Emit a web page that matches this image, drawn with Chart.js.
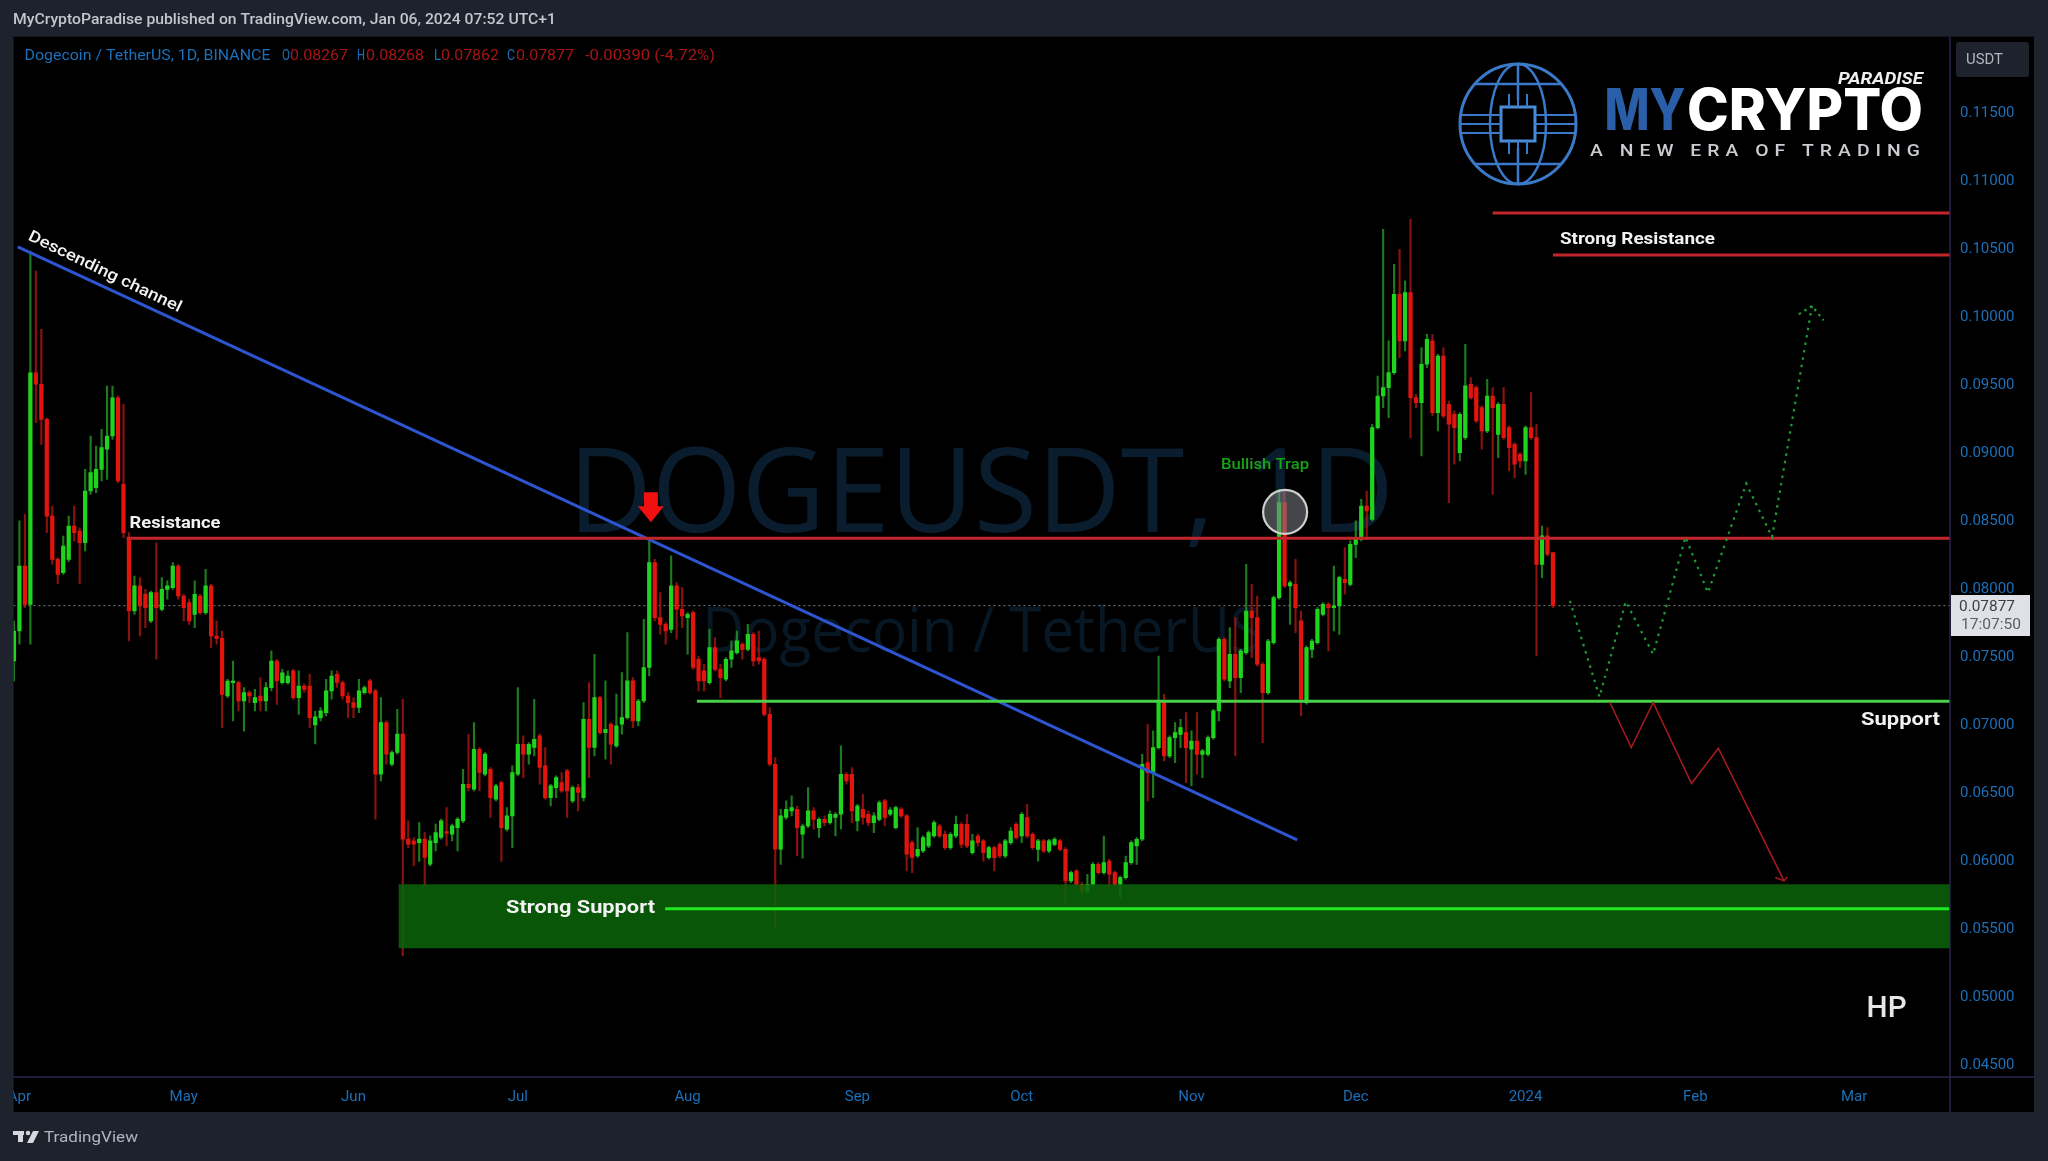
<!DOCTYPE html>
<html><head><meta charset="utf-8"><title>DOGEUSDT</title>
<style>html,body{margin:0;padding:0;background:#1e222d}canvas{display:block;filter:blur(0.7px)}</style>
<script src="https://cdn.jsdelivr.net/npm/chart.js@4"></script></head>
<body><canvas id="c" width="2048" height="1161"></canvas>
<script>
const firstDay=-1;
const opens=[.07470,.07691,.08169,.07887,.09590,.09505,.09247,.08536,.08218,.08120,
.08218,.08463,.08426,.08340,.08720,.08745,.08879,.09027,.09125,.09406,
.08769,.08377,.07838,.08022,.07960,.07764,.07973,.07850,.07997,.08010,
.08169,.07948,.07899,.07813,.07948,.07826,.08022,.07654,.07637,.07213,
.07311,.07311,.07176,.07238,.07164,.07213,.07176,.07274,.07470,.07311,
.07311,.07397,.07201,.07286,.07286,.07000,.07054,.07091,.07250,.07373,
.07312,.07213,.07164,.07128,.07238,.07324,.07250,.06637,.07017,.06711,
.06797,.06932,.06160,.06147,.06135,.06160,.05976,.06135,.06172,.06209,
.06196,.06245,.06294,.06564,.06527,.06821,.06637,.06674,.06454,.06576,
.06233,.06331,.06637,.06858,.06785,.06834,.06919,.06699,.06466,.06539,
.06576,.06662,.06441,.06539,.06466,.07042,.06834,.07201,.06944,.07005,
.06846,.07005,.07054,.07324,.07029,.07176,.07422,.08194,.07789,.07740,
.07703,.08022,.07850,.07789,.07826,.07483,.07397,.07311,.07569,.07409,
.07336,.07483,.07532,.07593,.07556,.07667,.07495,.07483,.07078,.06711,
.06086,.06319,.06368,.06380,.06196,.06257,.06368,.06245,.06306,.06282,
.06319,.06343,.06637,.06637,.06294,.06380,.06343,.06282,.06306,.06441,
.06343,.06245,.06380,.06331,.06135,.06037,.06074,.06110,.06184,.06257,
.06196,.06098,.06183,.06269,.06269,.06061,.06183,.06147,.06024,.06098,
.06122,.06036,.06134,.06269,.06183,.06318,.06196,.06085,.06147,.06073,
.06122,.06147,.06085,.05852,.05926,.05828,.05779,.05828,.05975,.05914,
.05999,.05914,.05828,.05877,.05987,.06110,.06159,.06723,.06649,.06833,
.07176,.06772,.06907,.06931,.06943,.06821,.06882,.06784,.06784,.06907,
.07103,.07630,.07323,.07519,.07348,.07532,.07838,.07789,.07446,.07238,
.07605,.07936,.08635,.08022,.08034,.07765,.07164,.07556,.07605,.07813,
.07887,.07863,.07875,.08071,.08034,.08328,.08365,.08610,.08512,.09186,
.09419,.09480,.09591,.10167,.09824,.10179,.09407,.09370,.09652,.09824,
.09297,.09713,.09358,.09284,.09002,.09113,.09505,.09480,.09333,.09162,
.09419,.09137,.09358,.09186,.09064,.08990,.08941,.09186,.09113,.08181,
.08390,.08267];
const highs=[.07764,.08500,.08549,.10485,.10338,.09909,.09259,.08610,.08230,.08389,
.08536,.08610,.08450,.08879,.09125,.09051,.09174,.09492,.09492,.09420,
.09358,.08414,.08095,.08083,.07997,.07985,.08340,.08083,.08059,.08193,
.08180,.07960,.07924,.08059,.07960,.08144,.08034,.07764,.07691,.07335,
.07470,.07323,.07274,.07250,.07262,.07348,.07311,.07544,.07482,.07409,
.07397,.07409,.07397,.07300,.07372,.07100,.07128,.07336,.07397,.07397,
.07324,.07238,.07201,.07336,.07287,.07336,.07262,.07201,.07030,.06809,
.07115,.07189,.06294,.06172,.06282,.06209,.06184,.06270,.06307,.06392,
.06270,.06319,.06674,.06932,.07017,.06834,.06797,.06687,.06564,.06588,
.06392,.06699,.07275,.06919,.06870,.07189,.06932,.06834,.06564,.06625,
.06650,.06674,.06552,.06564,.07164,.07312,.07520,.07213,.07324,.07017,
.07226,.07385,.07679,.07348,.07189,.07777,.08353,.08218,.07973,.07752,
.08243,.08047,.08010,.07826,.07838,.07507,.07446,.07703,.07642,.07446,
.07495,.07618,.07691,.07605,.07740,.07679,.07691,.07495,.07127,.06760,
.06380,.06441,.06478,.06404,.06270,.06539,.06392,.06319,.06331,.06368,
.06355,.06846,.06649,.06686,.06417,.06490,.06368,.06355,.06441,.06453,
.06392,.06404,.06392,.06343,.06147,.06245,.06184,.06221,.06294,.06269,
.06220,.06208,.06330,.06281,.06343,.06196,.06196,.06159,.06110,.06110,
.06134,.06159,.06245,.06281,.06355,.06416,.06208,.06159,.06159,.06159,
.06171,.06159,.06098,.05926,.05938,.05840,.05901,.05987,.05987,.06183,
.06012,.05926,.05889,.06036,.06147,.06171,.06784,.07005,.06956,.07507,
.07225,.06919,.07017,.07041,.07090,.06956,.07090,.06821,.06919,.07115,
.07642,.07642,.07715,.07789,.07556,.08181,.08034,.07948,.07458,.07630,
.07948,.08733,.08733,.08059,.08218,.07838,.07581,.07630,.07863,.07899,
.07899,.08169,.08095,.08304,.08353,.08500,.08659,.08720,.09211,.09566,
.10645,.09824,.10387,.10498,.10265,.10718,.09431,.09775,.09873,.09873,
.09725,.09775,.09382,.09309,.09297,.09799,.09554,.09493,.09346,.09542,
.09480,.09370,.09480,.09199,.09076,.09002,.09199,.09444,.09211,.08463,
.08451,.08268];
const lows=[.07323,.07593,.07862,.07593,.09223,.09063,.08414,.08181,.08039,.08107,
.08200,.08353,.08039,.08279,.08696,.08708,.08794,.08806,.09100,.08781,
.08377,.07617,.07813,.07654,.07715,.07752,.07483,.07838,.07924,.07997,
.07924,.07764,.07740,.07715,.07813,.07813,.07568,.07593,.06980,.07201,
.07029,.07103,.06955,.07164,.07103,.07103,.07103,.07250,.07151,.07299,
.07299,.07188,.07078,.07240,.06980,.06860,.07030,.07066,.07189,.07275,
.07189,.07054,.07054,.07091,.07226,.07226,.06307,.06588,.06711,.06699,
.06785,.05302,.06098,.05963,.05996,.05816,.05963,.06074,.06160,.06111,
.06147,.06074,.06282,.06515,.06515,.06515,.06625,.06319,.06441,.05996,
.06221,.06098,.06625,.06613,.06711,.06772,.06564,.06454,.06405,.06466,
.06503,.06319,.06429,.06368,.06441,.06613,.06772,.06932,.06748,.06711,
.06834,.06932,.07042,.06980,.06993,.07164,.07360,.07765,.07667,.07593,
.07679,.07630,.07716,.07520,.07409,.07250,.07250,.07299,.07397,.07201,
.07324,.07422,.07520,.07483,.07544,.07434,.07446,.07066,.06699,.05498,
.05975,.06306,.06331,.06037,.06020,.06245,.06233,.06172,.06257,.06270,
.06184,.06233,.06564,.06282,.06221,.06270,.06257,.06208,.06294,.06257,
.06331,.06233,.06319,.05926,.05914,.06025,.06061,.06098,.06172,.06171,
.06085,.06085,.06171,.06098,.06098,.06049,.06110,.05999,.06012,.05926,
.06024,.06024,.06122,.06159,.06134,.06171,.06085,.05999,.06061,.06061,
.06110,.06073,.05693,.05840,.05816,.05755,.05767,.05816,.05902,.05902,
.05816,.05816,.05730,.05865,.05975,.05975,.06147,.06441,.06466,.06821,
.06735,.06760,.06723,.06833,.06576,.06551,.06637,.06613,.06772,.06894,
.07029,.07323,.07274,.06772,.07238,.07519,.07495,.07434,.06870,.07225,
.07593,.07924,.08010,.07740,.07679,.07066,.07152,.07495,.07593,.07801,
.07544,.07691,.07666,.07961,.08022,.08230,.08353,.08365,.08500,.09174,
.09333,.09260,.09578,.09701,.09750,.09113,.09333,.08978,.09627,.09272,
.09162,.09260,.08635,.08917,.08941,.09100,.09395,.09223,.09027,.09150,
.08696,.08966,.09100,.08868,.08819,.08892,.08843,.09100,.07507,.08083,
.08243,.07862];
const closes=[.07691,.08169,.07887,.09590,.09505,.09247,.08536,.08218,.08107,.08316,
.08463,.08414,.08340,.08720,.08855,.08879,.09039,.09125,.09406,.08794,
.08414,.07838,.08022,.07875,.07862,.07973,.07862,.07997,.08022,.08169,
.07948,.07862,.07764,.07960,.07826,.08022,.07654,.07637,.07225,.07323,
.07323,.07176,.07238,.07213,.07201,.07176,.07274,.07470,.07323,.07384,
.07360,.07201,.07286,.07262,.07054,.07060,.07103,.07250,.07360,.07312,
.07213,.07164,.07128,.07250,.07275,.07238,.06637,.07017,.06785,.06797,
.06932,.06160,.06123,.06123,.06160,.06025,.06147,.06209,.06294,.06204,
.06258,.06307,.06564,.06539,.06821,.06650,.06785,.06466,.06552,.06245,
.06331,.06650,.06858,.06785,.06858,.06895,.06687,.06466,.06552,.06613,
.06515,.06515,.06539,.06503,.07042,.06834,.07201,.06944,.06968,.06858,
.06993,.07054,.07324,.07029,.07176,.07422,.08194,.07789,.07740,.07691,
.08022,.07850,.07801,.07814,.07422,.07324,.07324,.07569,.07409,.07348,
.07483,.07544,.07618,.07556,.07667,.07471,.07471,.07078,.06711,.06086,
.06331,.06380,.06392,.06245,.06257,.06368,.06306,.06306,.06282,.06343,
.06343,.06637,.06588,.06368,.06404,.06319,.06282,.06331,.06429,.06319,
.06373,.06392,.06331,.06049,.06025,.06086,.06172,.06208,.06282,.06184,
.06098,.06196,.06269,.06122,.06110,.06147,.06134,.06061,.06098,.06024,
.06036,.06147,.06220,.06171,.06343,.06183,.06098,.06147,.06073,.06147,
.06159,.06085,.05852,.05914,.05828,.05779,.05828,.05975,.05914,.05987,
.05902,.05828,.05877,.05987,.06134,.06159,.06710,.06649,.06833,.07164,
.06772,.06907,.06943,.06980,.06833,.06882,.06784,.06809,.06907,.07103,
.07630,.07336,.07519,.07348,.07544,.07838,.07789,.07446,.07238,.07617,
.07936,.08635,.08022,.08046,.07863,.07189,.07568,.07617,.07850,.07887,
.07863,.07875,.08083,.08046,.08328,.08365,.08610,.08573,.09186,.09419,
.09480,.09591,.10167,.09824,.10179,.09407,.09370,.09652,.09836,.09297,
.09713,.09272,.09211,.09186,.09284,.09493,.09407,.09235,.09162,.09419,
.09333,.09358,.09113,.09039,.08917,.08941,.09186,.09113,.08181,.08390,
.08255,.07877];

const monthStarts=[0,30,61,91,122,153,183,214,244,275,306,335];
const monthLabels=['Apr','May','Jun','Jul','Aug','Sep','Oct','Nov','Dec','2024','Feb','Mar'];
const lastPrice=0.07877;
const xMin=-1.1, xMax=352.5, yMin=0.04411, yMax=0.12061;

const channelLine=[[-0.3,0.10515],[233.3,0.06154]];
const resistanceLine=[[19.6,0.08373],[xMax,0.08373]];
const strongResTop=[[269,0.10765],[xMax,0.10765]];
const strongResLow=[[280,0.10456],[xMax,0.10456]];
const supportLine=[[123.7,0.07174],[xMax,0.07174]];
const strongSupportLine=[[117.9,0.05649],[xMax,0.05649]];
const zoneTop=[[69.2,0.05829],[xMax,0.05829]];
const zoneBottom=[[69.2,0.05358],[xMax,0.05358]];
const upPath=[[283.1,.07912],[288.5,.07206],[293.3,.07907],[298.3,.0752],[304.2,.08382],[308.3,.07973],[315.3,.08775],[320,.08382],[327.3,.10081]];
const upHead=[[324.9,.1002],[327.3,.10081],[329.4,.09975]];
const downPath=[[290.4,.07165],[294.3,.06834],[298.3,.07165],[305.3,.06569],[310.2,.06829],[322.2,.05853]];
const downHead=[[320.6,.05878],[322.2,.05853],[322.8,.05883]];
const trapMark=[[231.1,0.08566]];

const C_UP='#1fd41c', C_DN='#e2140e', W_UP='rgba(40,170,40,.72)', W_DN='rgba(190,25,20,.72)';
const days=opens.map((_,k)=>k+firstDay);
const isUp=k=>closes[k]>=opens[k];
const pts=a=>a.map(p=>({x:p[0],y:p[1]}));
const lineDs=(a,color,w,order,extra)=>Object.assign({type:'line',data:pts(a),borderColor:color,borderWidth:w,pointRadius:0,order,fill:false,tension:0},extra||{});

function fit(ctx,t,x,w,y,font,color,ls){ctx.save();ctx.font=font;ctx.fillStyle=color;ctx.textAlign='left';ctx.textBaseline='middle';
 if(ls)ctx.letterSpacing=ls;const m=ctx.measureText(t).width;ctx.translate(x,y);ctx.scale(w/m,1);ctx.fillText(t,0,0);ctx.restore();}

const BG='#1e222d', LEFT=13.4, TOP=36.7, RIGHT=2034, BOTTOM=1112;
const paint={id:'paint',
 beforeDraw(ch){const c=ch.ctx;c.save();c.fillStyle=BG;c.fillRect(0,0,2048,1161);c.fillStyle='#000';c.fillRect(LEFT,TOP,RIGHT-LEFT,BOTTOM-TOP);c.restore();},
 beforeDatasetsDraw(ch){const c=ch.ctx;c.save();
  fit(c,'DOGEUSDT, 1D',568,826,498,'118px "Open Sans"','#0a1d2e');
  fit(c,'Dogecoin / TetherUS',702,560,634,'62px "Open Sans"','#081724');
  c.restore();},
 afterDraw(ch){const c=ch.ctx,y=ch.scales.y,x=ch.scales.x;c.save();
  c.fillStyle=BG;c.fillRect(0,TOP,LEFT,BOTTOM-TOP);
  c.strokeStyle='#2a2450';c.lineWidth=1.5;c.beginPath();c.moveTo(LEFT,1077);c.lineTo(RIGHT,1077);c.moveTo(1950,TOP);c.lineTo(1950,BOTTOM);c.stroke();
  fit(c,'MyCryptoParadise published on TradingView.com, Jan 06, 2024 07:52 UTC+1',13,543,20,'500 14px Roboto','#c3c6ce');
  const blue='#1c6fb8',red='#a81414',ly=56;
  fit(c,'Dogecoin / TetherUS, 1D, BINANCE',24.5,246,ly,'14px Roboto',blue);
  [['O',282,8,blue],['0.08267',290,58,red],['H',357,8,blue],['0.08268',366,58,red],['L',434,7,blue],['0.07862',441,58,red],['C',507,8,blue],['0.07877',516,58,red],['-0.00390 (-4.72%)',585,130,red]]
   .forEach(s=>fit(c,s[0],s[1],s[2],ly,'14px Roboto',s[3]));
  c.fillStyle='#d6d8dd';c.fillRect(13,1131,11,4);c.fillRect(18,1131,5,11);c.beginPath();c.arc(28,1133,2.2,0,7);c.fill();
  c.beginPath();c.moveTo(33,1131);c.lineTo(39,1131);c.lineTo(33,1143);c.lineTo(27,1143);c.fill();
  fit(c,'TradingView',44,94,1138,'15px Roboto','#b2b5be');
  const wh='#f2f2f2';
  c.save();c.translate(29,236);c.rotate(Math.atan2(73,152));fit(c,'Descending channel',0,168,0,'500 16px Roboto',wh);c.restore();
  fit(c,'Resistance',129.5,91,523.7,'700 16px Roboto',wh);
  fit(c,'Bullish Trap',1221,88,465,'500 15px Roboto','#16a516');
  fit(c,'Strong Resistance',1560,155,240,'700 17px Roboto',wh);
  fit(c,'Support',1861,79,720,'700 18px Roboto',wh);
  fit(c,'Strong Support',506,149,908,'700 18px Roboto',wh);
  fit(c,'HP',1866.6,40,1009.5,'500 30px Roboto','#e6e6e6');
  const ax=x.getPixelForValue(115.3),ay=y.getPixelForValue(0.0838);
  c.fillStyle='#f01010';c.beginPath();c.moveTo(ax-7,ay-45);c.lineTo(ax+7,ay-45);c.lineTo(ax+7,ay-31);c.lineTo(ax+13,ay-31);c.lineTo(ax,ay-15);c.lineTo(ax-13,ay-31);c.lineTo(ax-7,ay-31);c.closePath();c.fill();
  c.fillStyle='#1e222d';c.beginPath();c.roundRect(1956,42,73,35,3);c.fill();
  fit(c,'USDT',1966,37,60,'14px Roboto','#b2b5be');
  c.fillStyle='#dfe1e6';c.fillRect(1951,595,79,41);
  fit(c,lastPrice.toFixed(5),1959,56,607,'15px Roboto','#3d4048');
  fit(c,'17:07:50',1961,60,625,'14px Roboto','#5b5e66');
  const L='#3b7ac9';c.strokeStyle=L;c.lineWidth=3;const gx=1518,gy=124;
  c.beginPath();c.ellipse(gx,gy,58,60,0,0,7);c.stroke();
  c.lineWidth=2.5;c.beginPath();c.ellipse(gx,gy,28,60,0,0,7);c.moveTo(gx,gy-60);c.lineTo(gx,gy-20);c.moveTo(gx,gy+20);c.lineTo(gx,gy+60);
  [-40,40].forEach(d=>{const w=Math.sqrt(1-d*d/3600)*58;c.moveTo(gx-w,gy+d);c.lineTo(gx+w,gy+d);});c.stroke();
  c.fillStyle='#000';c.fillRect(gx-24,gy-24,48,48);c.lineWidth=3;c.strokeStyle='#4a8ad8';c.strokeRect(gx-17,gy-17,34,34);
  c.lineWidth=2;c.strokeStyle=L;c.beginPath();
  [-9,0,9].forEach(d=>{c.moveTo(gx-57,gy+d);c.lineTo(gx-17,gy+d);c.moveTo(gx+17,gy+d);c.lineTo(gx+57,gy+d);c.moveTo(gx+d,gy-17);c.lineTo(gx+d,gy-30);c.moveTo(gx+d,gy+17);c.lineTo(gx+d,gy+30);});c.stroke();
  const g=c.createLinearGradient(1604,0,1685,0);g.addColorStop(0,'#2a5ea8');g.addColorStop(1,'#3f8ed8');
  fit(c,'MY',1604.5,81,113,'800 58px Inter',g);
  fit(c,'CRYPTO',1687,236,113,'800 58px Inter','#fff');
  fit(c,'PARADISE',1838,85,80,'italic 700 16px Roboto','#f0f0f0');
  fit(c,'A NEW ERA OF TRADING',1590,336,152,'500 16px Roboto','#c9ccd0','5px');
  c.restore();}
};

new Chart(document.getElementById('c'),{
 type:'bar',
 data:{datasets:[
  lineDs([[xMin,lastPrice],[xMax,lastPrice]],'rgba(170,172,180,.75)',1,60,{borderDash:[2,3]}),
  {label:'wicks',data:days.map((d,k)=>({x:d,y:[lows[k],highs[k]]})),backgroundColor:days.map((d,k)=>isUp(k)?W_UP:W_DN),barThickness:1.5,grouped:false,order:50},
  {label:'bodies',data:days.map((d,k)=>({x:d,y:[opens[k],closes[k]]})),backgroundColor:days.map((d,k)=>isUp(k)?C_UP:C_DN),barThickness:3.6,minBarLength:1.5,grouped:false,order:49},
  lineDs(zoneTop,'rgba(0,0,0,0)',0,20,{fill:'+1',backgroundColor:'rgba(10,100,10,.86)'}),
  lineDs(zoneBottom,'rgba(0,0,0,0)',0,21),
  lineDs(channelLine,'#2c55cf',3,15),
  lineDs(resistanceLine,'#c2262c',3,14),
  lineDs(strongResTop,'#c2262c',3,14),
  lineDs(strongResLow,'#c2262c',3,14),
  lineDs(supportLine,'#48d048',3,13),
  lineDs(strongSupportLine,'#22e81f',3,12),
  lineDs(upPath,'#1d9a36',2.2,11,{borderDash:[2.5,5]}),
  lineDs(upHead,'#1d9a36',2.2,11,{borderDash:[2.5,4]}),
  lineDs(downPath,'#a51a1e',1.6,11),
  lineDs(downHead,'#a51a1e',1.6,11),
  {type:'line',data:pts(trapMark),showLine:false,pointRadius:22,pointBackgroundColor:'rgba(125,127,135,.55)',pointBorderColor:'#cfcfcf',pointBorderWidth:2.2,order:5}
 ]},
 plugins:[paint],
 options:{responsive:false,animation:false,devicePixelRatio:1,
  layout:{autoPadding:false,padding:{left:LEFT,top:TOP,right:14,bottom:49}},
  plugins:{legend:{display:false},tooltip:{enabled:false},title:{display:false}},
  scales:{
   x:{type:'linear',min:xMin,max:xMax,offset:false,grid:{display:false,drawTicks:false},border:{display:false},
    afterBuildTicks(s){s.ticks=monthStarts.map(v=>({value:v}));},
    afterFit(s){s.height=35;s.paddingLeft=0;s.paddingRight=0;},
    ticks:{autoSkip:false,maxRotation:0,padding:11,color:'#1c6fb8',font:{family:'Roboto',size:15},callback:v=>monthLabels[monthStarts.indexOf(v)]}},
   y:{type:'linear',position:'right',min:yMin,max:yMax,grid:{display:false,drawTicks:false},border:{display:false},
    afterFit(s){s.width=84;s.paddingTop=0;s.paddingBottom=0;},
    ticks:{stepSize:0.005,autoSkip:false,includeBounds:false,padding:10,color:'#1c6fb8',font:{family:'Roboto',size:15},callback:v=>v>0.1151?null:v.toFixed(5)}}
  }}
});
</script></body></html>
